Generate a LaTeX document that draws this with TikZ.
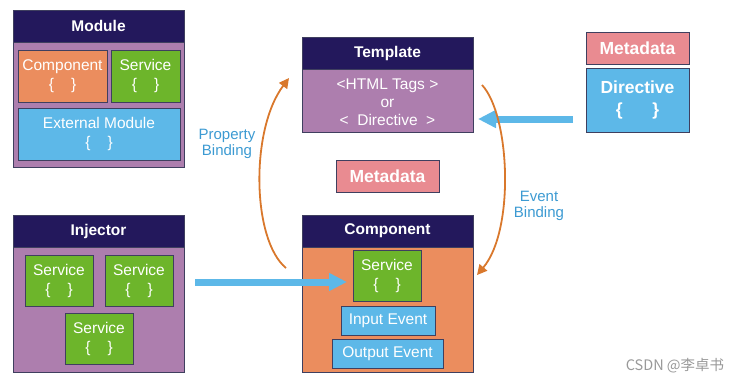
\documentclass[tikz,border=0pt]{standalone}
\usepackage{fontspec}
\setmainfont{Liberation Sans}
\newfontfamily\cjk{Noto Sans CJK SC}
\usetikzlibrary{arrows.meta,calc}
\definecolor{navy}{HTML}{23185C}
\definecolor{purp}{HTML}{AD7EAE}
\definecolor{orng}{HTML}{EB8D5E}
\definecolor{grn}{HTML}{6DB52B}
\definecolor{sky}{HTML}{5DB8E8}
\definecolor{pinkm}{HTML}{E98B91}
\definecolor{arcc}{HTML}{D9782C}
\definecolor{lbl}{HTML}{3C9AD2}
\definecolor{edge}{HTML}{3F3F5F}
\tikzset{
  box/.style={draw=edge, line width=1pt, inner sep=0pt, outer sep=0pt, anchor=north west,
    align=center, text=white, font=\fontsize{15.5}{19}\selectfont},
  head/.style={box, fill=navy, font=\bfseries\fontsize{15.5}{19}\selectfont},
  big/.style={box, font=\bfseries\fontsize{17.5}{22}\selectfont},
  bluearrow/.style={sky, line width=7pt, -{Triangle[width=17pt,length=18pt]}},
  orangearc/.style={arcc, line width=1.8pt, -{Triangle[width=10pt,length=10pt]}},
  lab/.style={text=lbl, align=center, font=\fontsize{15}{16.5}\selectfont}
}
\newcommand{\brc}[1]{\{\hspace{#1}\}}
\begin{document}
\begin{tikzpicture}[x=1pt,y=-1pt]
\path[use as bounding box] (0,0) rectangle (740,383);
% Module
\node[box, fill=purp, minimum width=171, minimum height=157] (module) at (13,10) {};
\node[head, minimum width=171, minimum height=32] (modhead) at (13,10) {Module};
\node[box, fill=orng, minimum width=89, minimum height=52] (mcomp) at (18,50) {Component\\\brc{1.1em}};
\node[box, fill=grn, minimum width=69, minimum height=52] (mserv) at (111,50) {Service\\\brc{1.1em}};
\node[box, fill=sky, minimum width=162, minimum height=52] (mext) at (18,108) {External Module\\\brc{1.1em}};
% Injector
\node[box, fill=purp, minimum width=171, minimum height=157] (injector) at (13,215) {};
\node[head, minimum width=171, minimum height=32] (injhead) at (13,215) {Injector};
\node[box, fill=grn, minimum width=68, minimum height=51] (s1) at (25,255) {Service\\\brc{1.1em}};
\node[box, fill=grn, minimum width=68, minimum height=51] (s2) at (105,255) {Service\\\brc{1.1em}};
\node[box, fill=grn, minimum width=68, minimum height=51] (s3) at (65,313) {Service\\\brc{1.1em}};
% Template
\node[box, fill=purp, minimum width=171, minimum height=95] (template) at (302,37) {};
\node[head, minimum width=171, minimum height=32] (temphead) at (302,37) {Template};
\node[text=white, align=center, font=\fontsize{15.5}{18}\selectfont] (temptext) at (387.5,102)
  {<HTML Tags >\\or\\<\ \ Directive\ \ >};
% Metadata middle
\node[big, fill=pinkm, minimum width=103, minimum height=32] (metamid) at (336,160) {Metadata};
% Component
\node[box, fill=orng, minimum width=171, minimum height=157] (component) at (302,215) {};
\node[head, minimum width=171, minimum height=32] (comphead) at (302,215) {Component};
\node[box, fill=grn, minimum width=68, minimum height=51] (cserv) at (353,250) {Service\\\brc{1.1em}};
\node[box, fill=sky, minimum width=94, minimum height=29] (cin) at (341,306) {Input Event};
\node[box, fill=sky, minimum width=111, minimum height=29] (cout) at (332,339) {Output Event};
% Metadata / Directive right
\node[big, fill=pinkm, minimum width=103, minimum height=32] (metaright) at (586,32) {Metadata};
\node[big, fill=sky, minimum width=103, minimum height=64] (directive) at (586,68) {Directive\\\brc{1.7em}};
% Arrows
\draw[bluearrow] ($(injector.east)+(11,-11.5)$) -- ($(cserv.west)+(-6,6.5)$);
\draw[bluearrow] ($(directive.west)+(-13,19)$) -- ($(template.east)+(5,34.5)$);
\draw[orangearc] ($(component.north west)+(-16,53)$) .. controls (252,240) and (250,130) .. ($(template.west)+(-13,-6.5)$);
\draw[orangearc] ($(template.east)+(9,0.5)$) .. controls (510,115) and (515,230) .. ($(component.east)+(4,-18.5)$);
% Labels
\node[lab] (pb) at (227,144) {Property\\Binding};
\node[lab] (eb) at (539,206) {Event\\Binding};
\node[text=black!40, font=\cjk\fontsize{14.5}{16}\selectfont] (wm) at (675,366) {CSDN @李卓书};
\end{tikzpicture}
\end{document}
